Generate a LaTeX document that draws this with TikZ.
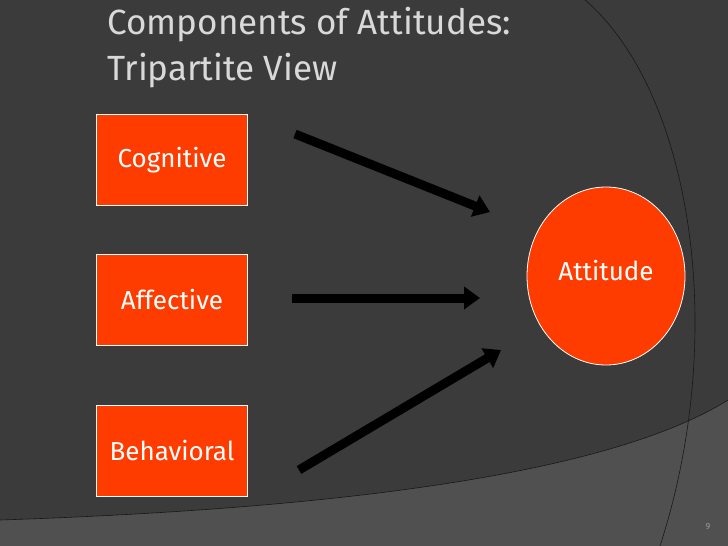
\documentclass[tikz,border=0pt]{standalone}
\usepackage{fontspec}
\setmainfont{Fira Sans}
\usetikzlibrary{arrows.meta,shapes.geometric}
\definecolor{boxred}{HTML}{FF3C00}
\definecolor{bg}{HTML}{3B3B3B}
\definecolor{bgl}{HTML}{505050}
\begin{document}
\begin{tikzpicture}[x=1pt,y=-1pt,
  box/.style={draw=white,line width=0.8pt,fill=boxred,minimum width=151pt,minimum height=91pt,inner sep=0pt,font=\fontsize{26}{28}\selectfont,text=white},
  arr/.style={line width=9pt,-{Triangle[length=16pt,width=22pt]}}]
\useasboundingbox (0,0) rectangle (728,546);
\fill[bg] (0,0) rectangle (728,546);
\fill[bgl] (0,520) .. controls (300,510) and (600,480) .. (728,400) -- (728,546) -- (0,546) -- cycle;
\draw[black!60!bg,line width=0.6pt] (585,0) .. controls (690,90) and (730,330) .. (660,546);
\draw[black!60!bg,line width=0.6pt] (0,520) .. controls (300,510) and (600,480) .. (728,400);
\node[anchor=north west,align=left,text=white!85!black,font=\fontsize{35}{46}\selectfont] (title) at (104,4) {Components of Attitudes:\\Tripartite View};
\node[box] (cog) at (172,160) {Cognitive};
\node[box] (aff) at (172,300) {Affective};
\node[box] (beh) at (172,451) {Behavioral};
\node[ellipse,draw=white,line width=0.8pt,fill=boxred,minimum width=158pt,minimum height=178pt,text=white,font=\fontsize{26}{28}\selectfont] (att) at (606,276) {\raisebox{12pt}{Attitude}};
\coordinate (e1) at (490,212);
\coordinate (e2) at (480,298);
\coordinate (e3) at (501,350);
\coordinate (s1) at (295,134);
\coordinate (s2) at (292,298);
\coordinate (s3) at (299,470);
\draw[arr] (s1) -- (e1);
\draw[arr] (s2) -- (e2);
\draw[arr] (s3) -- (e3);
\node[text=white!60!black,font=\small] (pg) at (708,527) {9};
\end{tikzpicture}
\end{document}
